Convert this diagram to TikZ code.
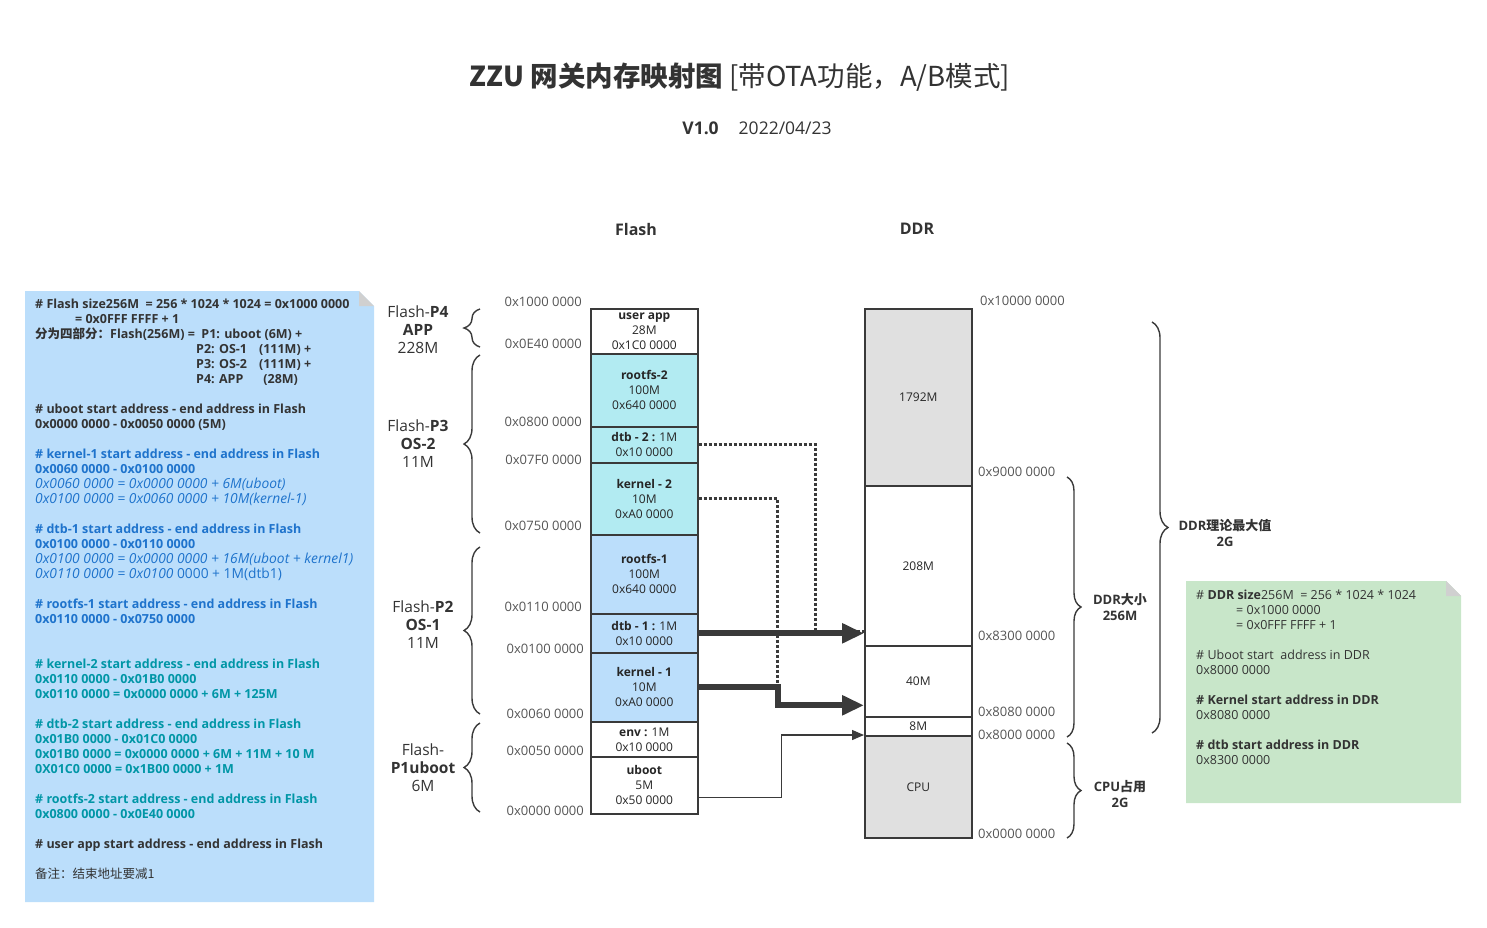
\documentclass[tikz,border=0pt]{standalone}
\usepackage{fontspec}
\setmainfont{Open Sans}
\newfontfamily\cjk{Noto Sans CJK SC}
\usetikzlibrary{arrows.meta,decorations.pathreplacing}

\definecolor{textc}{HTML}{333333}
\definecolor{linec}{HTML}{3A3A3A}
\definecolor{addrc}{HTML}{555555}
\definecolor{notebl}{HTML}{BBDEFB}
\definecolor{notegr}{HTML}{C8E6C9}
\definecolor{cyanbox}{HTML}{B2EBF2}
\definecolor{greybox}{HTML}{E0E0E0}
\definecolor{foldc}{HTML}{D0D0D0}
\definecolor{blutxt}{HTML}{1E73CC}
\definecolor{teatxt}{HTML}{0096A6}

\newcommand\itl[1]{{\mdseries\itshape\fontsize{13.8}{15}\selectfont #1}}

\tikzset{
  mem/.style={draw=linec, line width=1.6pt, minimum width=107, anchor=north west,
    inner sep=0pt, align=center, text=black!85, font=\fontsize{12}{15}\selectfont},
  addr/.style={text=addrc, inner sep=0pt, font=\fontsize{13}{15}\selectfont},
  part/.style={text=textc, align=center, inner sep=0pt, font=\fontsize{15.5}{18}\selectfont},
  ddrlab/.style={text=textc, align=center, inner sep=0pt, font=\bfseries\fontsize{13}{16}\selectfont},
  curly/.style={decorate, decoration={brace, amplitude=16pt}, line width=1.4pt, draw=linec},
  bigarrow/.style={line width=5.8pt, draw=linec, -{Triangle[length=22pt,width=19pt]}},
  thinarrow/.style={line width=1.3pt, draw=linec, -{Triangle[length=12pt,width=10pt]}},
  dotline/.style={line width=3pt, draw=linec, dash pattern=on 3pt off 2pt},
  notetxt/.style={anchor=north west, align=left, inner sep=0pt},
}

\begin{document}
\begin{tikzpicture}[x=1pt,y=-1pt]
    \useasboundingbox (0,0) rectangle (1487,927);

    % title and headings
    \node[text=textc, font=\cjk\fontsize{27.5}{32}\selectfont] (title) at (740,77)
        {\textbf{ZZU 网关内存映射图} [带OTA功能，A/B模式]};
    \node[text=textc, font=\fontsize{17.5}{20}\selectfont] (ver) at (757,128) {\textbf{V1.0}\hspace{20pt}2022/04/23};
    \node[text=textc, font=\bfseries\fontsize{16}{20}\selectfont] (flashhd) at (636,229) {Flash};
    \node[text=textc, font=\bfseries\fontsize{16}{20}\selectfont] (ddrhd) at (917,229) {DDR};

    % blue note (flash)
    \fill[notebl] (25,291) -- (359,291) -- (374,306) -- (374,902) -- (25,902) -- cycle;
    \fill[foldc] (359,291) -- (374,306) -- (359,306) -- cycle;
    \node[notetxt, text=textc, font=\bfseries\fontsize{12.5}{15}\selectfont] (noteA) at (35,299) {%
        \# Flash size256M \ = 256 * 1024 * 1024 = 0x1000 0000\\
        \hspace*{40pt}= 0x0FFF FFFF + 1\\
        {\cjk 分为四部分：}Flash(256M) = \ P1: uboot (6M) +\\
        \hspace*{161pt}P2: OS-1\hspace{12pt}(111M) +\\
        \hspace*{161pt}P3: OS-2\hspace{12pt}(111M) +\\
        \hspace*{161pt}P4: APP\hspace{20pt}(28M)\\[15pt]
        \# uboot start address - end address in Flash\\
        0x0000 0000 - 0x0050 0000 (5M)};
    \node[notetxt, text=blutxt, font=\bfseries\fontsize{12.5}{15}\selectfont] (noteA1) at (35,449) {%
        \# kernel-1 start address - end address in Flash\\
        0x0060 0000 - 0x0100 0000\\
        \itl{0x0060 0000 = 0x0000 0000 + 6M(uboot)}\\
        \itl{0x0100 0000 = 0x0060 0000 + 10M(kernel-1)}\\[15pt]
        \# dtb-1 start address - end address in Flash\\
        0x0100 0000 - 0x0110 0000\\
        \itl{0x0100 0000 = 0x0000 0000 + 16M(uboot + kernel1)}\\
        {\mdseries\fontsize{13.8}{15}\selectfont{\itshape 0x0110 0000 = 0x0100} 0000 + 1M(dtb1)}\\[15pt]
        \# rootfs-1 start address - end address in Flash\\
        0x0110 0000 - 0x0750 0000};
    \node[notetxt, text=teatxt, font=\bfseries\fontsize{12.5}{15}\selectfont] (noteA2) at (35,659) {%
        \# kernel-2 start address - end address in Flash\\
        0x0110 0000 - 0x01B0 0000\\
        0x0110 0000 = 0x0000 0000 + 6M + 125M\\[15pt]
        \# dtb-2 start address - end address in Flash\\
        0x01B0 0000 - 0x01C0 0000\\
        0x01B0 0000 = 0x0000 0000 + 6M + 11M + 10 M\\
        0X01C0 0000 = 0x1B00 0000 + 1M\\[15pt]
        \# rootfs-2 start address - end address in Flash\\
        0x0800 0000 - 0x0E40 0000};
    \node[notetxt, text=textc, font=\bfseries\fontsize{12.5}{15}\selectfont] (noteA3) at (35,839) {%
        \# user app start address - end address in Flash\\[15pt]
        {\cjk\mdseries\fontsize{12.5}{15}\selectfont 备注：结束地址要减1}};

    % flash column
    \node[mem, fill=white, minimum height=45] (userapp) at (590,308) {\textbf{user app}\\28M\\0x1C0 0000};
    \node[mem, fill=cyanbox, minimum height=73] (rootfsB) at (590,353) {\textbf{rootfs-2}\\100M\\0x640 0000};
    \node[mem, fill=cyanbox, minimum height=36] (dtbB) at (590,426) {\textbf{dtb - 2 :} 1M\\0x10 0000};
    \node[mem, fill=cyanbox, minimum height=72] (kernelB) at (590,462) {\textbf{kernel - 2}\\10M\\0xA0 0000};
    \node[mem, fill=notebl, minimum height=79] (rootfsA) at (590,534) {\textbf{rootfs-1}\\100M\\0x640 0000};
    \node[mem, fill=notebl, minimum height=39] (dtbA) at (590,613) {\textbf{dtb - 1 :} 1M\\0x10 0000};
    \node[mem, fill=notebl, minimum height=69] (kernelA) at (590,652) {\textbf{kernel - 1}\\10M\\0xA0 0000};
    \node[mem, fill=white, minimum height=35] (env) at (590,721) {\textbf{env :} 1M\\0x10 0000};
    \node[mem, fill=white, minimum height=57] (uboot) at (590,756) {\textbf{uboot}\\5M\\0x50 0000};

    \node[addr, anchor=east] (fa1) at (582,302) {0x1000 0000};
    \node[addr, anchor=east] (fa2) at (582,344) {0x0E40 0000};
    \node[addr, anchor=east] (fa3) at (582,422) {0x0800 0000};
    \node[addr, anchor=east] (fa4) at (582,460) {0x07F0 0000};
    \node[addr, anchor=east] (fa5) at (582,526) {0x0750 0000};
    \node[addr, anchor=east] (fa6) at (582,607) {0x0110 0000};
    \node[addr, anchor=east] (fa7) at (584,649) {0x0100 0000};
    \node[addr, anchor=east] (fa8) at (584,714) {0x0060 0000};
    \node[addr, anchor=east] (fa9) at (584,751) {0x0050 0000};
    \node[addr, anchor=east] (fa10) at (584,811) {0x0000 0000};

    % flash partitions
    \draw[curly] (480,347) -- (480,309);
    \draw[curly] (480,533) -- (480,355);
    \draw[curly] (480,714) -- (480,547);
    \draw[curly] (480,812) -- (480,723);
    \node[part] (p4) at (418,330) {Flash-\textbf{P4}\\\textbf{APP}\\228M};
    \node[part] (p3) at (418,444) {Flash-\textbf{P3}\\\textbf{OS-2}\\11M};
    \node[part] (p2) at (423,625) {Flash-\textbf{P2}\\\textbf{OS-1}\\11M};
    \node[part] (p1) at (423,768) {Flash-\\\textbf{P1uboot}\\6M};

    % ddr column
    \node[mem, fill=greybox, minimum height=177] (ddrtop) at (864,308) {1792M};
    \node[mem, fill=white, minimum height=160] (ddrfree) at (864,485) {208M};
    \node[mem, fill=white, minimum height=71] (ddrkern) at (864,645) {40M};
    \node[mem, fill=white, minimum height=19] (ddruboot) at (864,716) {8M};
    \node[mem, fill=greybox, minimum height=102] (ddrcpu) at (864,735) {CPU};

    \node[addr, anchor=west] (da1) at (980,301) {0x10000 0000};
    \node[addr, anchor=west] (da2) at (978,472) {0x9000 0000};
    \node[addr, anchor=west] (da3) at (978,636) {0x8300 0000};
    \node[addr, anchor=west] (da4) at (978,712) {0x8080 0000};
    \node[addr, anchor=west] (da5) at (978,735) {0x8000 0000};
    \node[addr, anchor=west] (da6) at (978,834) {0x0000 0000};

    \draw[curly, decoration={amplitude=14pt}] (1067,477) -- (1067,737);
    \draw[curly, decoration={amplitude=14pt}] (1067,743) -- (1067,838);
    \draw[curly] (1152,322) -- (1152,733);
    \node[ddrlab] (ddrsize) at (1120,607) {DDR{\cjk 大小}\\256M};
    \node[ddrlab] (cpuuse) at (1120,794) {CPU{\cjk 占用}\\2G};
    \node[ddrlab] (ddrmax) at (1225,533) {DDR{\cjk 理论最大值}\\2G};

    % green note (ddr)
    \fill[notegr] (1186,581) -- (1446,581) -- (1461,596) -- (1461,803) -- (1186,803) -- cycle;
    \fill[foldc] (1446,581) -- (1461,596) -- (1446,596) -- cycle;
    \node[notetxt, text=textc, font=\fontsize{12.5}{15}\selectfont] (noteB) at (1196,590) {%
        \# \textbf{DDR size}256M \ = 256 * 1024 * 1024\\
        \hspace*{40pt}= 0x1000 0000\\
        \hspace*{40pt}= 0x0FFF FFFF + 1\\[15pt]
        \# Uboot start \ address in DDR\\
        0x8000 0000\\[15pt]
        \textbf{\# Kernel start address in DDR}\\
        0x8080 0000\\[15pt]
        \textbf{\# dtb start address in DDR}\\
        0x8300 0000};

    % flash -> ddr
    \draw[dotline] (dtbB.east) -- ++(117,0) -- ([xshift=117pt,yshift=2pt]dtbA.east) -- ([yshift=2pt]dtbA.east -| ddrfree.west);
    \draw[dotline] (kernelB.east) -- ++(79,0) -- ([xshift=79pt]kernelA.east);
    \draw[bigarrow] (dtbA.east) -- (dtbA.east -| ddrfree.west);
    \draw[bigarrow] (kernelA.east) -- ++(79,0) |- ([yshift=-24pt]ddrkern.west);
    \draw[thinarrow] ([yshift=-12pt]uboot.east) -- ++(83,0) |- (ddrcpu.north west);
\end{tikzpicture}
\end{document}
